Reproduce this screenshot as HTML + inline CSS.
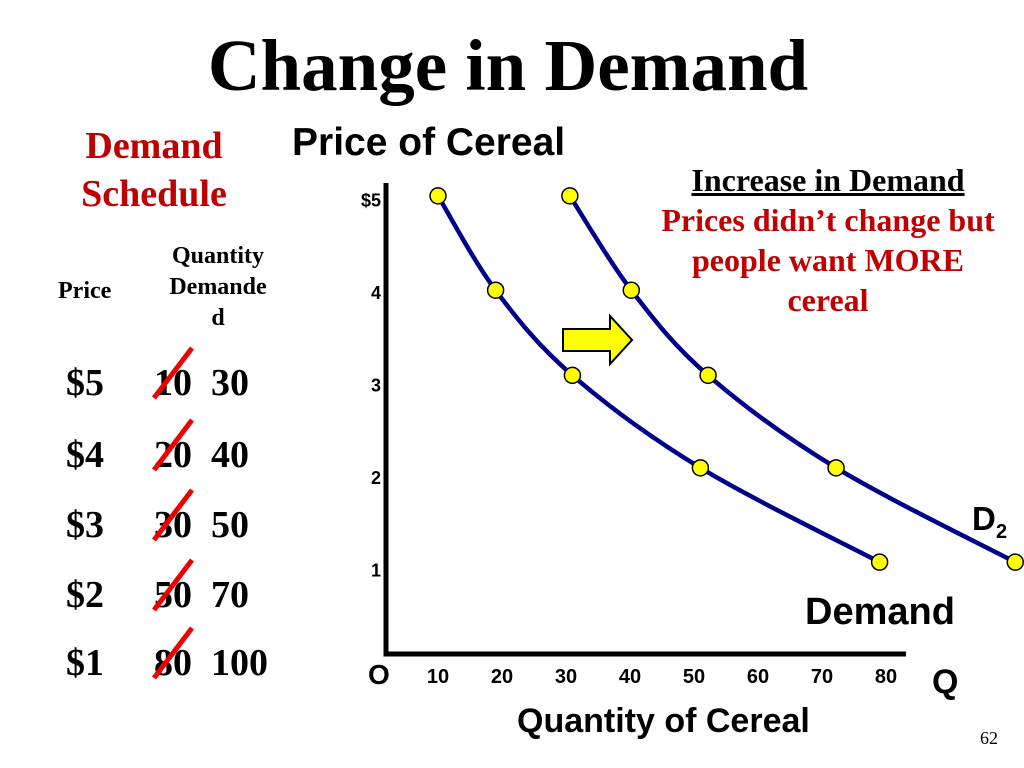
<!DOCTYPE html>
<html><head><meta charset="utf-8"><style>
body{margin:0;width:1024px;height:768px;background:#fff;overflow:hidden;position:relative;font-family:"Liberation Serif",serif}
.t{position:absolute;white-space:nowrap}
.s{font-family:"Liberation Sans",sans-serif;font-weight:bold}
.red{color:#c00000}
</style></head><body>
<div class="t" style="left:0;width:1016px;text-align:center;top:24px;font-size:73px;font-weight:bold">Change in Demand</div>
<div class="t red" style="left:54px;width:200px;text-align:center;top:122px;font-size:38px;font-weight:bold;line-height:48px">Demand<br>Schedule</div>
<div class="t" style="left:58px;top:278px;font-size:24px;font-weight:bold">Price</div>
<div class="t" style="left:158px;width:120px;text-align:center;top:241px;font-size:24px;font-weight:bold;line-height:31px">Quantity<br>Demande<br>d</div>
<div>
<div class="t" style="left:66px;top:361px;font-size:38px;font-weight:bold">$5</div><div class="t" style="left:154px;top:361px;font-size:38px;font-weight:bold">10&nbsp; 30</div>
<div class="t" style="left:66px;top:433px;font-size:38px;font-weight:bold">$4</div><div class="t" style="left:154px;top:433px;font-size:38px;font-weight:bold">20&nbsp; 40</div>
<div class="t" style="left:66px;top:503px;font-size:38px;font-weight:bold">$3</div><div class="t" style="left:154px;top:503px;font-size:38px;font-weight:bold">30&nbsp; 50</div>
<div class="t" style="left:66px;top:573px;font-size:38px;font-weight:bold">$2</div><div class="t" style="left:154px;top:573px;font-size:38px;font-weight:bold">50&nbsp; 70</div>
<div class="t" style="left:66px;top:641px;font-size:38px;font-weight:bold">$1</div><div class="t" style="left:154px;top:641px;font-size:38px;font-weight:bold">80&nbsp; 100</div>
</div>
<div class="t s" style="left:292px;top:121px;font-size:39px">Price of Cereal</div>
<div class="t s" style="left:517px;top:702px;font-size:34px">Quantity of Cereal</div>
<div class="t" style="left:628px;width:400px;text-align:center;top:160px;font-size:32px;font-weight:bold;line-height:40px"><span style="text-decoration:underline">Increase in Demand</span><br><span class="red">Prices didn’t change but<br>people want MORE<br>cereal</span></div>
<div class="t" style="left:980px;top:728px;font-size:18px">62</div>
<svg id="c" width="1024" height="768" style="position:absolute;left:0;top:0"></svg>
<script>
const xTicks=[10,20,30,40,50,60,70,80];
const yTicks=[5,4,3,2,1];
const yLabels=["$5","4","3","2","1"];
const d1Q=[10,19,31,51,79];
const d1P=[5.05,4.03,3.11,2.11,1.09];
const d2Q=[30.6,40.2,52.2,72.2,100.2];
const d2P=[5.05,4.03,3.11,2.11,1.09];
const X=q=>374+6.4*q, Y=p=>663-92.5*p;
const svg=document.getElementById('c');const NS='http://www.w3.org/2000/svg';
function mk(t,a,txt){const e=document.createElementNS(NS,t);for(const k in a)e.setAttribute(k,a[k]);if(txt!=null)e.textContent=txt;svg.appendChild(e);return e;}
[348,420,490,560,628].forEach(y=>{const e=mk('line',{x1:154,y1:y+50,x2:192,y2:y,stroke:'#e00',"stroke-width":5});

});
let e=mk('polyline',{points:'386,183 386,654 906,654',fill:'none',stroke:'#000','stroke-width':5});


xTicks.forEach(v=>{const t=mk('text',{x:X(v),y:683,'text-anchor':'middle','font-family':'Liberation Sans','font-weight':'bold','font-size':20},String(v));

});
yTicks.forEach((v,i)=>{const t=mk('text',{x:381,y:Y(v)+6,'text-anchor':'end','font-family':'Liberation Sans','font-weight':'bold','font-size':18},yLabels[i]);

});
e=mk('text',{x:368,y:684,'font-family':'Liberation Sans','font-weight':'bold','font-size':28},'O');


e=mk('text',{x:932,y:693,'font-family':'Liberation Sans','font-weight':'bold','font-size':34},'Q');


function path(qs,ps){const pts=qs.map((q,i)=>[X(q),Y(ps[i])]);let d='M'+pts[0];for(let i=0;i<pts.length-1;i++){const p0=pts[i-1]||pts[i],p1=pts[i],p2=pts[i+1],p3=pts[i+2]||p2;d+=` C${p1[0]+(p2[0]-p0[0])/6},${p1[1]+(p2[1]-p0[1])/6} ${p2[0]-(p3[0]-p1[0])/6},${p2[1]-(p3[1]-p1[1])/6} ${p2[0]},${p2[1]}`;}return d;}
[[d1Q,d1P,'demand-curve'],[d2Q,d2P,'demand-curve-d2']].forEach(([q,p,n])=>{const c=mk('path',{d:path(q,p),fill:'none',stroke:'#00008b','stroke-width':4.5});


q.forEach((v,i)=>{const pt=mk('circle',{cx:X(v),cy:Y(p[i]),r:8,fill:'#ffff00',stroke:'#000','stroke-width':1.5});

});});
e=mk('polygon',{points:'563,329 610,329 610,316 632,340 610,364 610,351 563,351',fill:'#ffff00',stroke:'#000','stroke-width':2});


e=mk('text',{x:805,y:624,'font-family':'Liberation Sans','font-weight':'bold','font-size':38},'Demand');


e=mk('text',{x:972,y:530,'font-family':'Liberation Sans','font-weight':'bold','font-size':33},'D');


e=mk('text',{x:996,y:538,'font-family':'Liberation Sans','font-weight':'bold','font-size':20},'2');


</script>
</body></html>
